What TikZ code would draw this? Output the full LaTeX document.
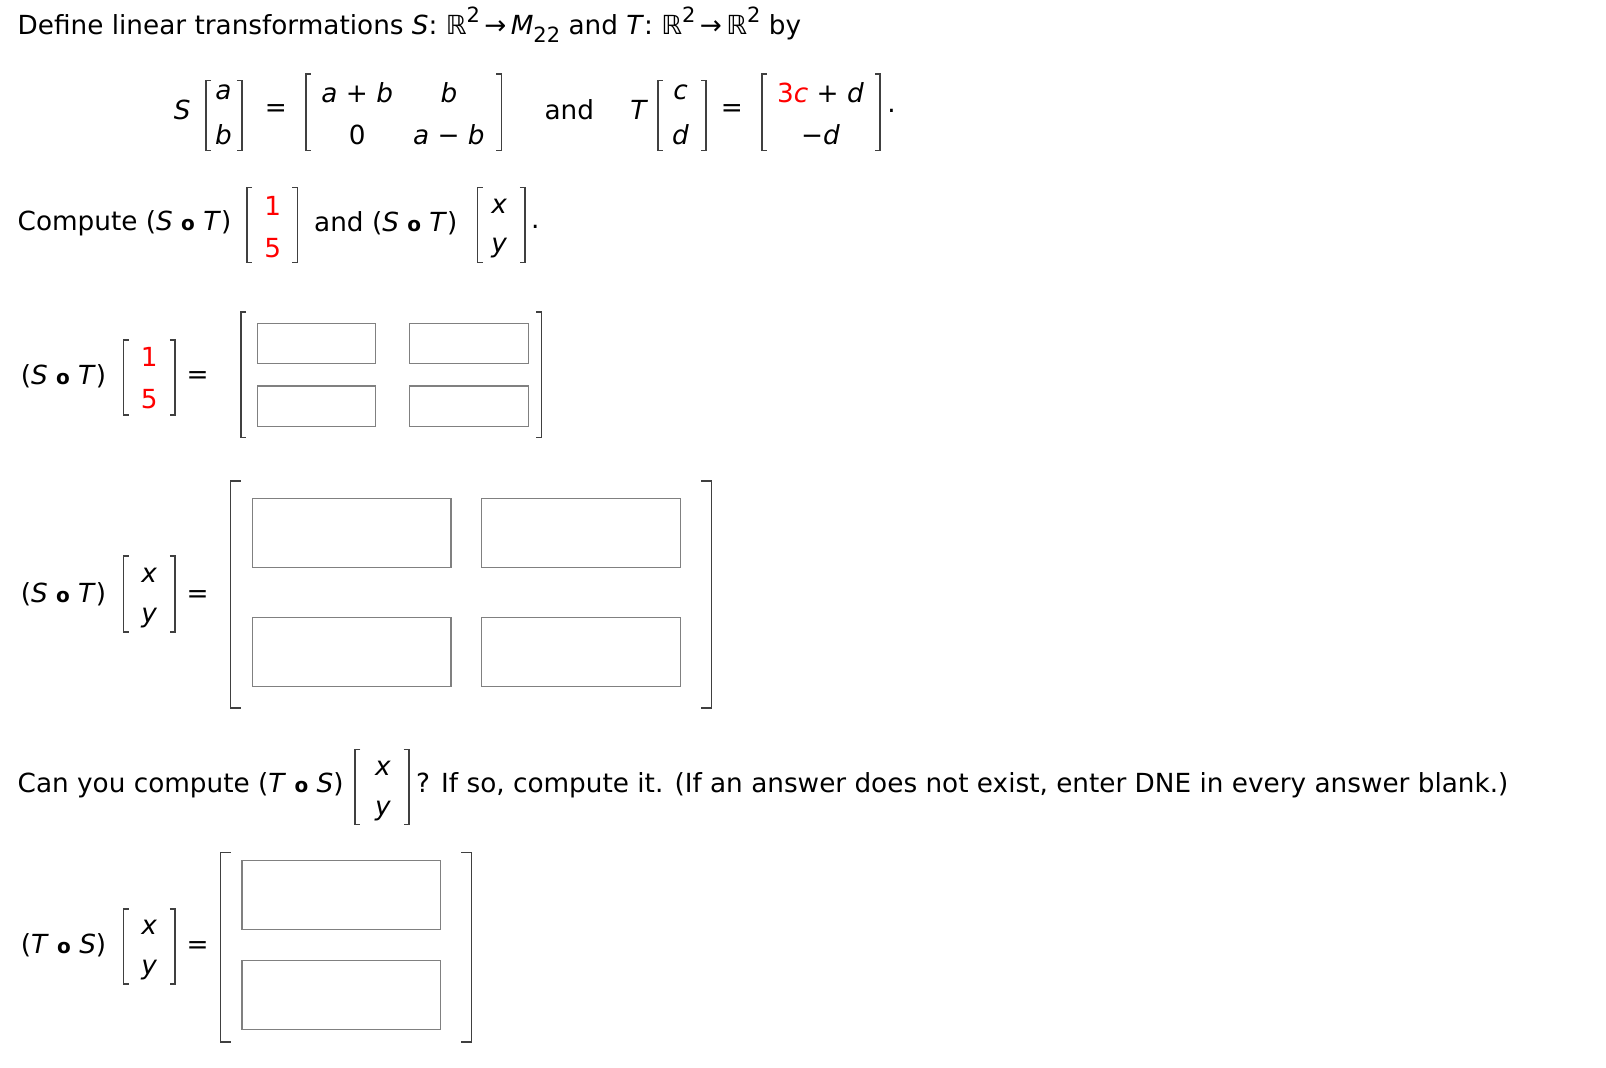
\documentclass[tikz,border=0pt]{standalone}
\usepackage{fontspec}
\setmainfont{DejaVu Sans}
\newcommand{\lbr}[4][5]{\draw[brk] ({#2+#1},#3) -- (#2,#3) -- (#2,#4) -- ({#2+#1},#4);}
\newcommand{\rbr}[4][5]{\draw[brk] ({#2-#1},#3) -- (#2,#3) -- (#2,#4) -- ({#2-#1},#4);}
\newcommand{\co}{ {\fontsize{20}{24}\selectfont\textbf{o}} }
\newcommand{\sq}{\raisebox{0.45em}{\fontsize{21}{24}\selectfont 2}}
\newcommand{\arr}{\,→\,}
\begin{document}
\begin{tikzpicture}[x=1.03pt,y=-1.03pt,
  brk/.style={line width=1.6pt,draw=black!75},
  bx/.style={draw=black!50,line width=1.2pt},
  t/.style={inner sep=0pt,font=\fontsize{26.3}{30}\selectfont},
  tl/.style={t,anchor=west},
  r/.style={text=red}]
\useasboundingbox (0,0) rectangle (1560,1037);
\node[tl] (l1) at (17,24) {Define linear transformations \textit{S}: ℝ\sq\arr\textit{M}\raisebox{-0.3em}{\fontsize{21}{24}\selectfont 22} and \textit{T}: ℝ\sq\arr ℝ\sq\ by};
% row 2
\node[t] (s) at (177,107) {\textit{S}};
\lbr{200}{78}{146}\rbr{235}{78}{146}
\node[t] at (217,90) {\textit{a}};\node[t] at (217,131) {\textit{b}};
\node[t] at (268,107) {=};
\lbr{297}{72}{146}\rbr{487}{72}{146}
\node[t] at (347,90) {\textit{a} + \textit{b}};\node[t] at (436,90) {\textit{b}};
\node[t] at (347,131) {0};\node[t] at (436,131) {\textit{a} − \textit{b}};
\node[t] at (553,107) {and};
\node[t] at (621,107) {\textit{T}};
\lbr{639}{78}{146}\rbr{686}{78}{146}
\node[t] at (661,90) {\textit{c}};\node[t] at (661,131) {\textit{d}};
\node[t] at (711,107) {=};
\lbr{740}{72}{146}\rbr{855}{72}{146}
\node[t] at (797,90) {\textcolor{red}{3\textit{c}} + \textit{d}};\node[t] at (797,131) {−\textit{d}};
\node[t] at (866,108) {.};
% row 3
\node[tl] at (17,217) {Compute (\textit{S}\co\textit{T})};
\lbr{240}{182}{255}\rbr{289}{182}{255}
\node[t,r] at (265,200) {1};\node[t,r] at (265,241) {5};
\node[tl] at (305,217) {and (\textit{S}\co\textit{T})};
\lbr{464}{182}{255}\rbr{510}{182}{255}
\node[t] at (485,200) {\textit{x}};\node[t] at (485,241) {\textit{y}};
\node[t] at (520,220) {.};
% row 4
\node[tl] at (20,365) {(\textit{S}\co\textit{T})};
\lbr{120}{330}{403}\rbr{170}{330}{403}
\node[t,r] at (145,347) {1};\node[t,r] at (145,388) {5};
\node[t] at (192,367) {=};
\lbr{234}{303}{425}\rbr{526}{303}{425}
\draw[bx] (250,314) rectangle (365,353);\draw[bx] (398,314) rectangle (513,353);
\draw[bx] (250,375) rectangle (365,414);\draw[bx] (398,375) rectangle (513,414);
% row 5
\node[tl] at (20,577) {(\textit{S}\co\textit{T})};
\lbr{120}{540}{614}\rbr{170}{540}{614}
\node[t] at (145,559) {\textit{x}};\node[t] at (145,600) {\textit{y}};
\node[t] at (192,579) {=};
\lbr[10]{224}{467}{688}\rbr[10]{691}{467}{688}
\draw[bx] (245,484) rectangle (438,551);\draw[bx] (468,484) rectangle (661,551);
\draw[bx] (245,600) rectangle (438,667);\draw[bx] (468,600) rectangle (661,667);
% row 6
\node[tl] at (17,763) {Can you compute (\textit{T}\co\textit{S})};
\lbr{345}{728}{801}\rbr{397}{728}{801}
\node[t] at (372,746) {\textit{x}};\node[t] at (372,788) {\textit{y}};
\node[tl] at (404,763) {? If so, compute it. (If an answer does not exist, enter DNE in every answer blank.)};
% row 7
\node[tl] at (20,918) {(\textit{T}\co\textit{S})};
\lbr{120}{883}{956}\rbr{170}{883}{956}
\node[t] at (145,901) {\textit{x}};\node[t] at (145,942) {\textit{y}};
\node[t] at (192,920) {=};
\lbr[10]{214}{828}{1012}\rbr[10]{458}{828}{1012}
\draw[bx] (235,836) rectangle (428,903);
\draw[bx] (235,933) rectangle (428,1000);
\end{tikzpicture}
\end{document}
